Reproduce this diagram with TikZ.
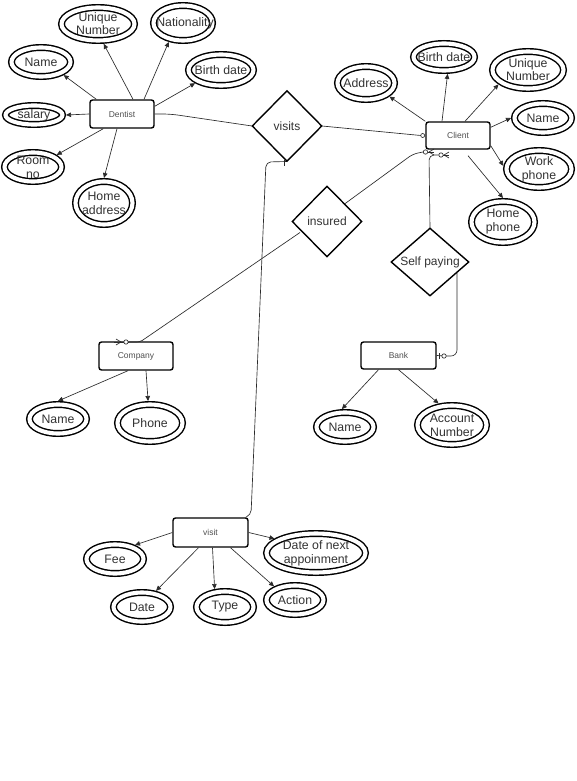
\documentclass[tikz,border=0pt]{standalone}
\usepackage{fontspec}
\setmainfont{Liberation Sans}
\usetikzlibrary{arrows.meta,shapes.geometric}
\definecolor{ln}{HTML}{2A2A2A}
\definecolor{tx}{HTML}{333333}
\definecolor{etx}{HTML}{505050}
\newcommand\attr[6]{%
 \pgfmathsetmacro\aw{2*#4-7}\pgfmathsetmacro\ah{2*#5-7}%
 \node[attrshape, minimum width=\aw pt, minimum height=\ah pt] (#1) at (#2,#3) {};
 \node[attrtext] (#1-t) at (#1) {#6};}
\begin{document}
\begin{tikzpicture}[x=1pt,y=-1pt,
 ent/.style={draw=black, line width=1.4pt, rounded corners=2.5pt, fill=white, font=\fontsize{8.5}{10}\selectfont, text=etx, inner sep=0pt},
 relshape/.style={draw=black, line width=1.4pt, shape=diamond, inner sep=0pt, fill=white, font=\fontsize{12}{14}\selectfont, text=tx},
 attrshape/.style={ellipse, draw=black, line width=1.45pt, double=white, double distance=4.1pt, inner sep=0pt, outer sep=3.5pt},
 attrtext/.style={font=\fontsize{12.3}{14}\selectfont, text=tx, align=center, inner sep=0pt},
 con/.style={draw=ln, line width=0.65pt},
 arr/.style={con, -{Triangle[length=5pt,width=4.5pt]}},
 cmark/.style={draw=ln, line width=0.65pt, fill=white},
]
\useasboundingbox (0,0) rectangle (576,781);
\fill[white] (0,0) rectangle (576,781);

% ---------- entities ----------
\node[ent, minimum width=64pt, minimum height=28pt] (dentist) at (122,114) {Dentist};
\node[ent, minimum width=64pt, minimum height=27pt] (client) at (458,135.5) {Client};
\node[ent, minimum width=74pt, minimum height=28pt] (company) at (136,356) {Company};
\node[ent, minimum width=75pt, minimum height=27pt] (bank) at (398.5,355.5) {Bank};
\node[ent, minimum width=75pt, minimum height=29pt] (visit) at (210.5,532.5) {visit};

\coordinate (insC) at (423,152);
\coordinate (spC) at (438.5,155);
\coordinate (bankC) at (446,356);
\coordinate (coC) at (128.5,342);

\draw[con, rounded corners=8pt] (dentist.east) -- ++(16,0) -- (287-35,126);
\draw[con] (287+35,126) -- ([xshift=-4.5pt]client.west);
\draw[con, rounded corners=5pt] (287,161.5) -- (266,162) -- (251,515) -- ([xshift=-3pt]visit.north east);
\draw[con, rounded corners=5pt] (327+17.5,221.5-17.5) -- (413,154) -- (insC);
\draw[con, rounded corners=3pt] (327-27,221.5+11) -- (140,342) -- (coC);
\draw[con, rounded corners=5pt] (430,228) -- (429,155) -- (spC);
\draw[con, rounded corners=6pt] (457,272.5) |- (bankC);

\node[relshape, minimum width=70pt, minimum height=71pt] (visits) at (287,126) {\makebox[0pt]{visits}};
\node[relshape, minimum width=70pt, minimum height=71pt] (insured) at (327,221.5) {\makebox[0pt]{insured}};
\node[relshape, minimum width=78pt, minimum height=68pt] (selfpay) at (430,262) {\makebox[0pt]{Self paying}};

% cardinality marks
\draw[cmark] ([xshift=-2.6pt]client.west) circle[radius=2pt];
\draw[con] (284,160) -- (284,166);
\draw[cmark] (425.5,152) circle[radius=2.2pt];
\draw[con] (427.7,152) -- (434,152);
\draw[con] (434,149) -- (429,152) -- (434,155);
\draw[con] (443,155) -- (449,155);
\draw[cmark] (441,155) circle[radius=2.2pt];
\draw[con] (449,152) -- (444,155) -- (449,158);
\draw[con] (bank.east) -- (bankC);
\draw[cmark] (444,356) circle[radius=2.2pt];
\draw[con] (439,353) -- (439,359);
\draw[con] (coC) -- (114,342);
\draw[cmark] (126,342) circle[radius=2.2pt];
\draw[con] (116,339) -- (121,342) -- (116,345);

% ---------- attributes ----------
\attr{dname}{41}{62}{33}{18}{Name}
\attr{duniq}{98}{24}{40}{20}{Unique\\[-1pt]Number}
\attr{dnat}{183}{23}{33}{21}{\makebox[0pt]{\hspace{4pt}Nationality}}
\attr{dbirth}{221}{70}{36}{19}{Birth date}
\attr{dsal}{34}{115}{32}{13}{salary}
\attr{droom}{33}{167}{32}{18}{Room\\[0pt]no}
\attr{dhome}{104}{203}{32}{25}{Home\\[0pt]address}

\attr{caddr}{366}{83}{32}{20}{Address}
\attr{cbirth}{444}{57}{34}{17}{Birth date}
\attr{cuniq}{528}{70}{39}{22}{Unique\\[-1pt]Number}
\attr{cname}{543}{118}{32}{18}{Name}
\attr{cwork}{539}{169}{36}{22}{Work\\[0pt]phone}
\attr{chome}{503}{222}{35}{24}{Home\\[0pt]phone}

\attr{coname}{58}{419}{32}{18}{Name}
\attr{cophone}{150}{423}{36}{22}{Phone}

\attr{bname}{345}{427}{32}{18}{Name}
\attr{bacc}{452}{425}{38}{23}{Account\\[0pt]Number}

\attr{vfee}{115}{559}{32}{18}{Fee}
\attr{vnext}{316}{553}{53}{23}{Date of next\\[0pt]appoinment}
\attr{vdate}{142}{607}{32}{18}{Date}
\attr{vtype}{225}{607}{32}{19}{Type}
\attr{vact}{295}{600}{32}{18}{Action}

% ---------- attribute arrows ----------
\draw[arr] ([xshift=7pt]dentist.north west) -- (dname.-30);
\draw[arr] ([xshift=11pt]dentist.north) -- (duniq.-74);
\draw[arr] ([xshift=22pt]dentist.north) -- (dnat.233);
\draw[arr] ([yshift=-7pt]dentist.north east) -- (dbirth.207);
\draw[arr] (dentist.west) -- (dsal.0);
\draw[arr] ([xshift=14pt]dentist.south west) -- (droom.27);
\draw[arr] ([xshift=-5pt]dentist.south) -- (dhome.90);

\draw[arr] (client.north west) -- (caddr.-30);
\draw[arr] ([xshift=-16pt]client.north) -- (cbirth.-78);
\draw[arr] ([xshift=7pt]client.north) -- (cuniq.206);
\draw[arr] ([yshift=-6pt]client.north east) -- (cname.180);
\draw[arr] ([yshift=4pt]client.south east) -- (cwork.175);
\draw[arr] ([xshift=10pt,yshift=-6pt]client.south) -- (chome.90);

\draw[arr] ([xshift=-8pt]company.south) -- (coname.90);
\draw[arr] ([xshift=10pt]company.south) -- (cophone.95);

\draw[arr] ([xshift=-20pt]bank.south) -- (bname.100);
\draw[arr] (bank.south) -- (bacc.122);

\draw[arr] (visit.west) -- (vfee.35);
\draw[arr] ([xshift=-12pt]visit.south) -- (vdate.49);
\draw[arr] ([xshift=2pt]visit.south) -- (vtype.120);
\draw[arr] ([xshift=20pt]visit.south) -- (vact.147);
\draw[arr] (visit.east) -- (vnext.161);
\end{tikzpicture}
\end{document}
